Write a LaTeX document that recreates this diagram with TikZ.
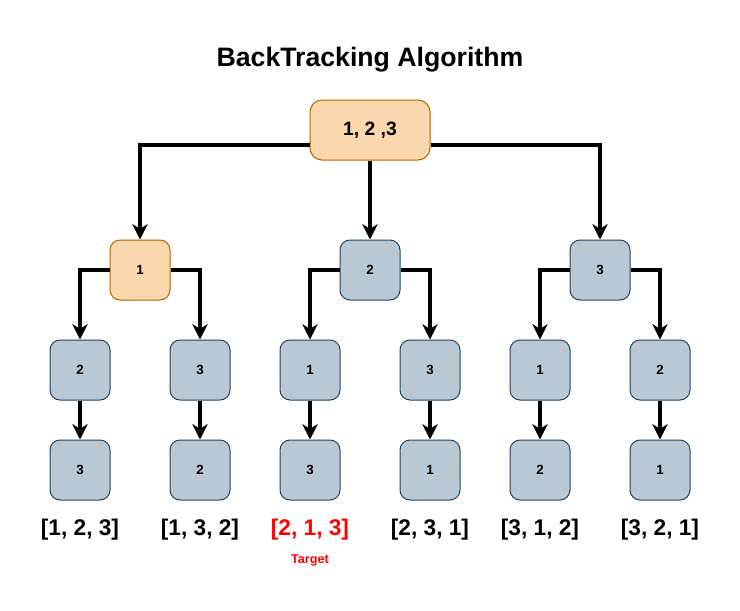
\documentclass[tikz,border=0pt]{standalone}
\usepackage{fontspec}
\setmainfont{Liberation Sans}
\usetikzlibrary{arrows.meta}
\definecolor{peach}{HTML}{FAD7AC}
\definecolor{peachline}{HTML}{B46504}
\definecolor{slate}{HTML}{BAC8D3}
\definecolor{slateline}{HTML}{23445D}
\tikzset{
    box/.style={draw=slateline, fill=slate, line width=0.75pt, rounded corners=7.5pt,
        minimum width=45pt, minimum height=45pt, inner sep=0pt,
        font=\bfseries\fontsize{10}{12}\selectfont},
    hot/.style={box, draw=peachline, fill=peach},
    result/.style={font=\bfseries\fontsize{17}{20}\selectfont, inner sep=0pt},
    arr/.style={line width=2.4pt, -{Stealth[length=11.5pt,width=11.5pt,inset=3.5pt]}}
}

\begin{document}
\begin{tikzpicture}[x=0.75pt, y=-0.75pt]
        \useasboundingbox (0,0) rectangle (740,611);
        \node[font=\bfseries\fontsize{20}{24}\selectfont] (title) at (370,60) {BackTracking Algorithm};
        \node[hot, minimum width=90pt, rounded corners=9pt, font=\bfseries\fontsize{14.5}{17}\selectfont] (root) at (370,130) {1, 2 ,3};
        \node[hot] (n1) at (140,270) {1};
        \node[box] (n2) at (370,270) {2};
        \node[box] (n3) at (600,270) {3};
        \draw[arr] (root.west) ++(0,15) -| (n1);
        \draw[arr] (root) -- (n2);
        \draw[arr] (root.east) ++(0,15) -| (n3);
        \foreach \n/\x/\mid/\leaf/\res/\col in {a/80/2/3/{[1, 2, 3]}/black, b/200/3/2/{[1, 3, 2]}/black,
                c/310/1/3/{[2, 1, 3]}/red, d/430/3/1/{[2, 3, 1]}/black,
                e/540/1/2/{[3, 1, 2]}/black, f/660/2/1/{[3, 2, 1]}/black} {
            \node[box] (m\n) at (\x,370) {\mid};
            \node[box] (l\n) at (\x,470) {\leaf};
            \node[result, text=\col] (r\n) at (\x,530) {\res};
            \draw[arr] (m\n) -- (l\n);
        }
        \node[font=\bfseries\fontsize{9.5}{11}\selectfont, text=red] (target) at (310,560) {Target};
        \draw[arr] (n1.west) -| (ma);
        \draw[arr] (n1.east) -| (mb);
        \draw[arr] (n2.west) -| (mc);
        \draw[arr] (n2.east) -| (md);
        \draw[arr] (n3.west) -| (me);
        \draw[arr] (n3.east) -| (mf);
\end{tikzpicture}
\end{document}
